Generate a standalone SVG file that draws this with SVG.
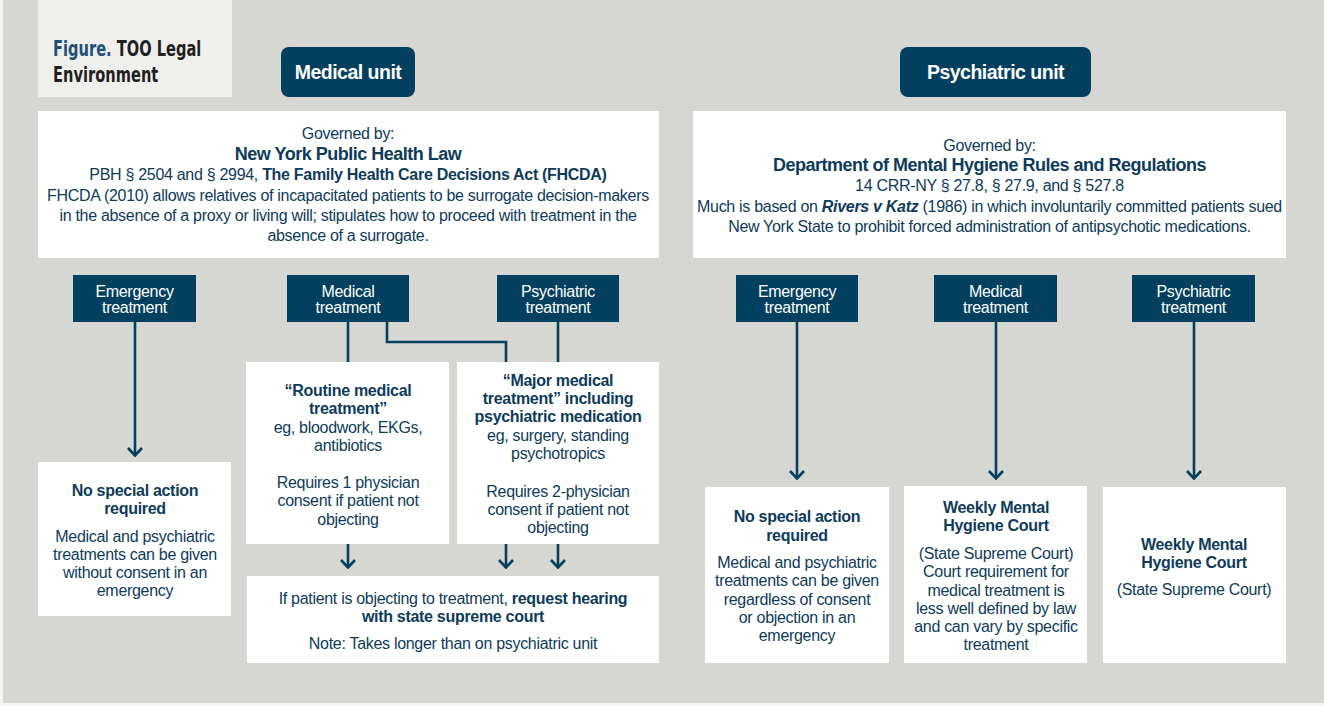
<svg xmlns="http://www.w3.org/2000/svg" width="1324" height="706" viewBox="0 0 1324 706">
<defs>
<style>
.t{font-family:"Liberation Sans",Arial,sans-serif;font-size:16px;fill:#0d3b5a;text-anchor:middle;letter-spacing:-0.3px}
.b{font-weight:bold}
.h{font-family:"Liberation Sans",Arial,sans-serif;font-size:18px;font-weight:bold;fill:#0d3b5a;text-anchor:middle;letter-spacing:-0.5px}
.w{font-family:"Liberation Sans",Arial,sans-serif;font-size:16px;fill:#ffffff;text-anchor:middle;letter-spacing:-0.3px}
.u{font-family:"Liberation Sans",Arial,sans-serif;font-size:19.5px;font-weight:bold;fill:#ffffff;text-anchor:middle;letter-spacing:-0.5px}
.box{fill:#ffffff}
.dk{fill:#033f5e}
.ln{fill:none;stroke:#033f5e;stroke-width:2.6}
.ti{font-family:"DejaVu Sans Condensed","DejaVu Sans",sans-serif;font-size:22px;font-weight:bold;fill:#231f20}
</style>
<marker id="ah" viewBox="0 0 10 16" refX="9" refY="8" markerWidth="10" markerHeight="16" markerUnits="userSpaceOnUse" orient="auto">
<path d="M1,1 L8.5,8 L1,15" fill="none" stroke="#033f5e" stroke-width="2.6"/>
</marker>
</defs>
<rect x="0" y="0" width="1324" height="706" fill="#f4f4f2"/>
<rect x="3" y="0" width="1321" height="703" fill="#d6d7d2"/>

<g id="title">
<rect x="38" y="0" width="194" height="97" fill="#efefee"/>
<g transform="translate(53,0) scale(0.74,1)">
<text class="ti" x="0" y="56.5"><tspan style="fill:#1f4e79">Figure.</tspan> TOO Legal</text>
<text class="ti" x="0" y="82.5">Environment</text>
</g>
</g>

<g id="medical-unit">
<rect x="281" y="47" width="134" height="50" rx="8" class="dk"/>
<text class="u" x="348" y="79">Medical unit</text>
</g>
<g id="psychiatric-unit">
<rect x="900" y="47" width="191" height="50" rx="8" class="dk"/>
<text class="u" x="995.5" y="79">Psychiatric unit</text>
</g>

<g id="med-governed">
<rect x="38" y="111" width="621" height="147" class="box"/>
<text class="t" x="348" y="139">Governed by:</text>
<text class="h" x="348" y="160">New York Public Health Law</text>
<text class="t" x="348" y="180">PBH § 2504 and § 2994, <tspan class="b">The Family Health Care Decisions Act (FHCDA)</tspan></text>
<text class="t" x="348" y="201">FHCDA (2010) allows relatives of incapacitated patients to be surrogate decision-makers</text>
<text class="t" x="348" y="221">in the absence of a proxy or living will; stipulates how to proceed with treatment in the</text>
<text class="t" x="348" y="241">absence of a surrogate.</text>
</g>

<g id="psy-governed">
<rect x="693" y="111" width="593" height="147" class="box"/>
<text class="t" x="989.5" y="151">Governed by:</text>
<text class="h" x="989.5" y="171">Department of Mental Hygiene Rules and Regulations</text>
<text class="t" x="989.5" y="191">14 CRR-NY § 27.8, § 27.9, and § 527.8</text>
<text class="t" x="989.5" y="212">Much is based on <tspan class="b" font-style="italic">Rivers v Katz</tspan>  (1986) in which involuntarily committed patients sued</text>
<text class="t" x="989.5" y="232">New York State to prohibit forced administration of antipsychotic medications.</text>
</g>

<g id="med-emergency">
<rect x="73" y="275" width="123" height="47" class="dk"/>
<text class="w" x="134.5" y="297">Emergency</text>
<text class="w" x="134.5" y="313">treatment</text>
</g>
<g id="med-medical">
<rect x="287" y="275" width="122" height="47" class="dk"/>
<text class="w" x="348" y="297">Medical</text>
<text class="w" x="348" y="313">treatment</text>
</g>
<g id="med-psychiatric">
<rect x="497" y="275" width="122" height="47" class="dk"/>
<text class="w" x="558" y="297">Psychiatric</text>
<text class="w" x="558" y="313">treatment</text>
</g>
<g id="psy-emergency">
<rect x="736" y="275" width="122" height="47" class="dk"/>
<text class="w" x="797" y="297">Emergency</text>
<text class="w" x="797" y="313">treatment</text>
</g>
<g id="psy-medical">
<rect x="934" y="275" width="123" height="47" class="dk"/>
<text class="w" x="995.5" y="297">Medical</text>
<text class="w" x="995.5" y="313">treatment</text>
</g>
<g id="psy-psychiatric">
<rect x="1132" y="275" width="123" height="47" class="dk"/>
<text class="w" x="1193.5" y="297">Psychiatric</text>
<text class="w" x="1193.5" y="313">treatment</text>
</g>

<g id="connectors">
<path class="ln" d="M135,322 V456" marker-end="url(#ah)"/>
<path class="ln" d="M348,322 V362"/>
<path class="ln" d="M387,322 V342 H506 V362"/>
<path class="ln" d="M558,322 V362"/>
<path class="ln" d="M348,544 V568" marker-end="url(#ah)"/>
<path class="ln" d="M506,544 V568" marker-end="url(#ah)"/>
<path class="ln" d="M558,544 V568" marker-end="url(#ah)"/>
<path class="ln" d="M797,322 V479" marker-end="url(#ah)"/>
<path class="ln" d="M996,322 V479" marker-end="url(#ah)"/>
<path class="ln" d="M1194,322 V479" marker-end="url(#ah)"/>
</g>

<g id="med-no-special">
<rect x="38" y="462" width="193" height="154" class="box"/>
<text class="t b" x="135" y="496">No special action</text>
<text class="t b" x="135" y="514">required</text>
<text class="t" x="135" y="542">Medical and psychiatric</text>
<text class="t" x="135" y="560">treatments can be given</text>
<text class="t" x="135" y="578">without consent in an</text>
<text class="t" x="135" y="596">emergency</text>
</g>

<g id="routine">
<rect x="246" y="362" width="203" height="182" class="box"/>
<text class="t b" x="348" y="396">“Routine medical</text>
<text class="t b" x="348" y="414">treatment”</text>
<text class="t" x="348" y="433">eg, bloodwork, EKGs,</text>
<text class="t" x="348" y="451">antibiotics</text>
<text class="t" x="348" y="488">Requires 1 physician</text>
<text class="t" x="348" y="506">consent if patient not</text>
<text class="t" x="348" y="525">objecting</text>
</g>

<g id="major">
<rect x="457" y="362" width="202" height="182" class="box"/>
<text class="t b" x="558" y="386">“Major medical</text>
<text class="t b" x="558" y="404">treatment” including</text>
<text class="t b" x="558" y="422">psychiatric medication</text>
<text class="t" x="558" y="441">eg, surgery, standing</text>
<text class="t" x="558" y="459">psychotropics</text>
<text class="t" x="558" y="497">Requires 2-physician</text>
<text class="t" x="558" y="515">consent if patient not</text>
<text class="t" x="558" y="533">objecting</text>
</g>

<g id="hearing">
<rect x="247" y="576" width="412" height="87" class="box"/>
<text class="t" x="453" y="604">If patient is objecting to treatment, <tspan class="b">request hearing</tspan></text>
<text class="t b" x="453" y="622">with state supreme court</text>
<text class="t" x="453" y="649">Note: Takes longer than on psychiatric unit</text>
</g>

<g id="psy-no-special">
<rect x="705" y="487" width="184" height="176" class="box"/>
<text class="t b" x="797" y="522">No special action</text>
<text class="t b" x="797" y="541">required</text>
<text class="t" x="797" y="568">Medical and psychiatric</text>
<text class="t" x="797" y="586">treatments can be given</text>
<text class="t" x="797" y="605">regardless of consent</text>
<text class="t" x="797" y="623">or objection in an</text>
<text class="t" x="797" y="641">emergency</text>
</g>

<g id="psy-weekly-med">
<rect x="904" y="486" width="183" height="177" class="box"/>
<text class="t b" x="996" y="513">Weekly Mental</text>
<text class="t b" x="996" y="531">Hygiene Court</text>
<text class="t" x="996" y="559">(State Supreme Court)</text>
<text class="t" x="996" y="577">Court requirement for</text>
<text class="t" x="996" y="596">medical treatment is</text>
<text class="t" x="996" y="614">less well defined by law</text>
<text class="t" x="996" y="632">and can vary by specific</text>
<text class="t" x="996" y="650">treatment</text>
</g>

<g id="psy-weekly-psy">
<rect x="1103" y="487" width="183" height="176" class="box"/>
<text class="t b" x="1194" y="550">Weekly Mental</text>
<text class="t b" x="1194" y="568">Hygiene Court</text>
<text class="t" x="1194" y="595">(State Supreme Court)</text>
</g>
</svg>
